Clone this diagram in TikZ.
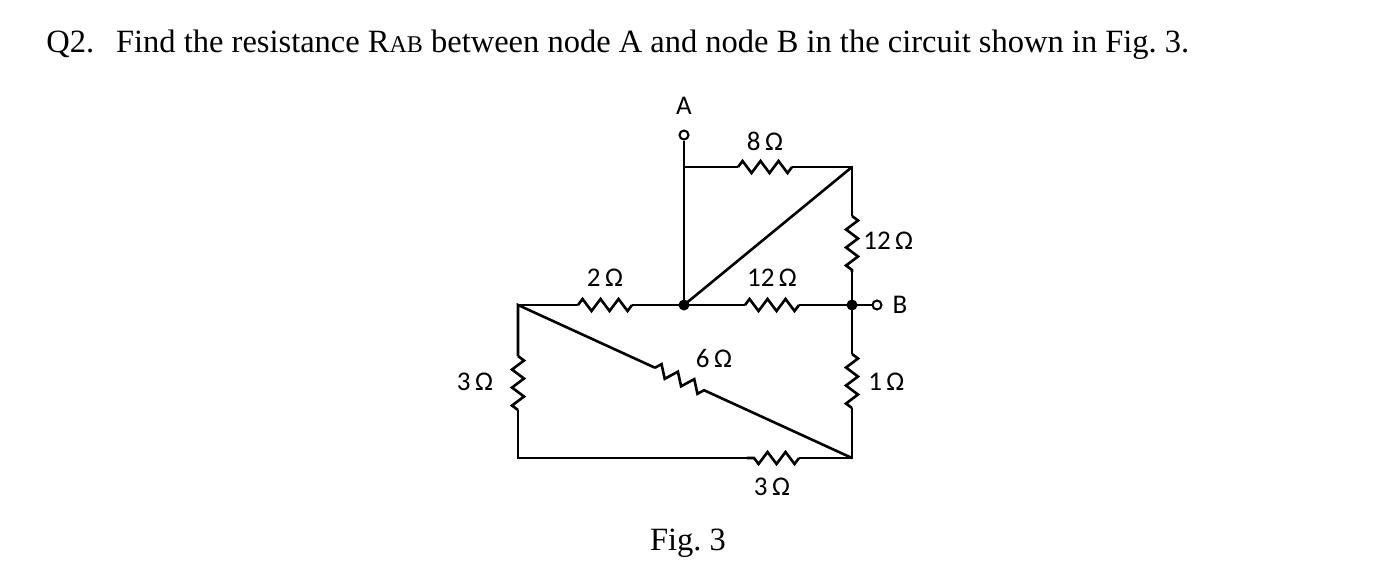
\documentclass[tikz,border=0pt]{standalone}
\usepackage{fontspec}
\setmainfont{Liberation Serif}
\newfontfamily\calfont{Carlito}
\usetikzlibrary{decorations.pathmorphing,calc}
\frenchspacing
\begin{document}
\begin{tikzpicture}[x=1pt,y=-1pt,line width=2.6pt,
  wire/.style={line join=miter},
  res/.style={decorate,decoration={zigzag,segment length=18pt,amplitude=6pt}},
  lbl/.style={font=\calfont\fontsize{27}{29}\selectfont,inner sep=0pt},
  term/.style={circle,draw,fill=white,line width=2pt,inner sep=0pt,minimum size=9pt},
  dot/.style={circle,fill,inner sep=0pt,minimum size=11pt}]
\useasboundingbox (0,0) rectangle (1378,574);
\node[anchor=base west,inner sep=0pt,font=\fontsize{32.5}{34}\selectfont] (title) at (45,52)
  {Q2.\hspace{22pt}Find the resistance R{\fontsize{24}{26}\selectfont AB} between node A and node B in the circuit shown in Fig. 3.};
\node[anchor=base,inner sep=0pt,font=\fontsize{32.5}{34}\selectfont] (fig) at (688,550) {Fig. 3};
% coordinates
\coordinate (TL) at (684,167);
\coordinate (TR) at (852,167);
\coordinate (M) at (684,305);
\coordinate (B) at (852,305);
\coordinate (L) at (518,305);
\coordinate (BL) at (518,458);
\coordinate (BR) at (852,458);
\node[term] (A) at (684,135) {};
\node[term] (Bt) at (877,305) {};
% resistor ends
\coordinate (r8a) at (738,167); \coordinate (r8b) at (792,167);
\coordinate (r12va) at (852,216); \coordinate (r12vb) at (852,272);
\coordinate (r2a) at (578,305); \coordinate (r2b) at (632,305);
\coordinate (r12ha) at (745,305); \coordinate (r12hb) at (799,305);
\coordinate (r1a) at (852,354); \coordinate (r1b) at (852,408);
\coordinate (r3ba) at (747,458); \coordinate (r3bb) at (799,458);
\coordinate (r3la) at (518,356); \coordinate (r3lb) at (518,410);
\coordinate (r6a) at ($(L)!0.41!(BR)$);
\coordinate (r6b) at ($(L)!0.57!(BR)$);
% wires
\draw[wire] (A) -- (M);
\draw[wire] (TL) -- (r8a); \draw[res] (r8a) -- (r8b); \draw[wire] (r8b) -- (TR) -- (r12va);
\draw[res] (r12va) -- (r12vb); \draw[wire] (r12vb) -- (B);
\draw[wire] (TR) -- (M);
\draw[wire] (L) -- (r2a); \draw[res] (r2a) -- (r2b); \draw[wire] (r2b) -- (M) -- (r12ha);
\draw[res] (r12ha) -- (r12hb); \draw[wire] (r12hb) -- (B) -- (Bt);
\draw[wire] (B) -- (r1a); \draw[res] (r1a) -- (r1b); \draw[wire] (r1b) -- (BR) -- (r3bb);
\draw[res] (r3bb) -- (r3ba); \draw[wire] (r3ba) -- (BL) -- (r3lb);
\draw[res] (r3lb) -- (r3la); \draw[wire] (r3la) -- (L) -- (r6a);
\draw[res] (r6a) -- (r6b); \draw[wire] (r6b) -- (BR);
\node[dot] (Md) at (M) {};
\node[dot] (Bd) at (B) {};
% labels
\node[lbl] (lA) at (684,106) {A};
\node[lbl] (lB) at (900,305) {B};
\node[lbl] (l8) at (765,141) {8\,Ω};
\node[lbl,anchor=west] (l12v) at (862,241) {12\,Ω};
\node[lbl] (l2) at (605,278) {2\,Ω};
\node[lbl] (l12h) at (772,278) {12\,Ω};
\node[lbl] (l6) at (714,358) {6\,Ω};
\node[lbl,anchor=west] (l1) at (867,382) {1\,Ω};
\node[lbl] (l3l) at (475,382) {3\,Ω};
\node[lbl] (l3b) at (772,487) {3\,Ω};
\end{tikzpicture}
\end{document}
